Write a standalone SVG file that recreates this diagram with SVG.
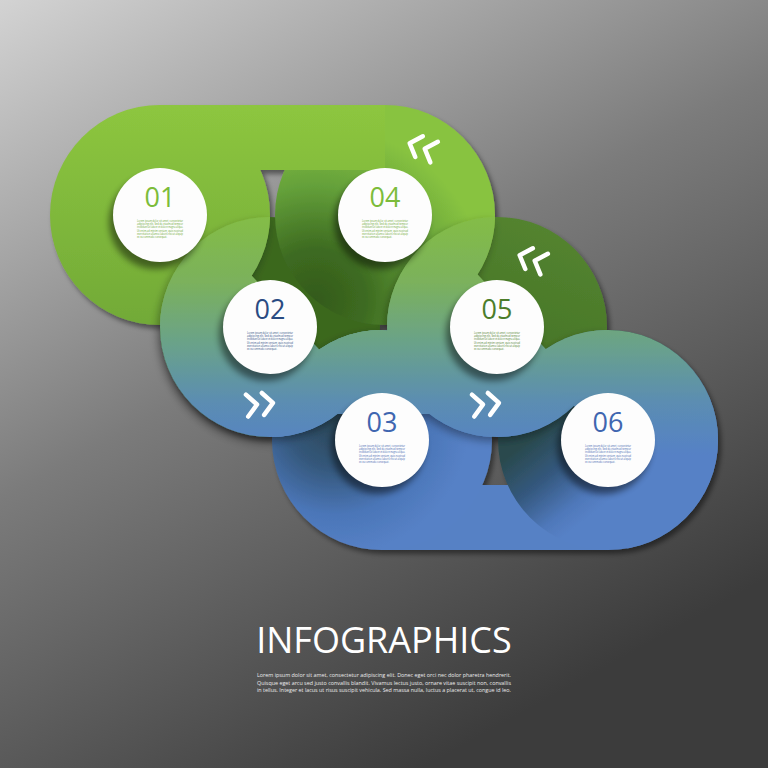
<svg xmlns="http://www.w3.org/2000/svg" width="768" height="768" viewBox="0 0 768 768">
<defs>
  <style>
    .wc { fill: #fdfdfd; }
    .sd { fill: #000; opacity: 0.45; filter: url(#blur); }
    .num { font-family: "Open Sans", "Liberation Sans", sans-serif; font-size: 27px; text-anchor: middle; }
    .lo { font-family: "Open Sans", "Liberation Sans", sans-serif; font-size: 3.3px; }
    .chev { fill: none; stroke: #fff; stroke-width: 4.5; stroke-linecap: round; stroke-linejoin: round; }
    .title { font-family: "Open Sans", "Liberation Sans", sans-serif; font-size: 36px; fill: #fff; text-anchor: middle; }
    .para { font-family: "Open Sans", "Liberation Sans", sans-serif; font-size: 6px; fill: #ececec; }
  </style>
  <linearGradient id="bg" x1="0" y1="0" x2="0.55" y2="1">
    <stop offset="0" stop-color="#d3d3d3"/>
    <stop offset="0.5" stop-color="#7b7b7b"/>
    <stop offset="1" stop-color="#3c3c3c"/>
  </linearGradient>
  <linearGradient id="light" gradientUnits="userSpaceOnUse" x1="0" y1="105" x2="0" y2="330">
    <stop offset="0" stop-color="#8dc63f"/>
    <stop offset="1" stop-color="#71a937"/>
  </linearGradient>
  <linearGradient id="eg" x1="0.7" y1="0" x2="0.3" y2="1">
    <stop offset="0" stop-color="#548430"/>
    <stop offset="1" stop-color="#3d6a21"/>
  </linearGradient>
  <radialGradient id="dint" gradientUnits="userSpaceOnUse" cx="315" cy="300" r="175">
    <stop offset="0" stop-color="#335a1b"/>
    <stop offset="0.3" stop-color="#3e6c21"/>
    <stop offset="0.65" stop-color="#64a03a"/>
    <stop offset="1" stop-color="#88c340"/>
  </radialGradient>
  <radialGradient id="cint" gradientUnits="userSpaceOnUse" cx="335" cy="420" r="135">
    <stop offset="0" stop-color="#2a4656"/>
    <stop offset="0.35" stop-color="#34577a"/>
    <stop offset="0.7" stop-color="#4b76b8"/>
    <stop offset="1" stop-color="#5681c6"/>
  </radialGradient>
  <linearGradient id="fint" gradientUnits="userSpaceOnUse" x1="530" y1="440" x2="600" y2="530">
    <stop offset="0" stop-color="#2a4a4e"/>
    <stop offset="0.35" stop-color="#34587e"/>
    <stop offset="0.68" stop-color="#4f78ba"/>
    <stop offset="0.85" stop-color="#5681c6"/>
  </linearGradient>
  <linearGradient id="rib" gradientUnits="userSpaceOnUse" x1="0" y1="215" x2="0" y2="455">
    <stop offset="0" stop-color="#84bd46"/>
    <stop offset="0.28" stop-color="#7bb15c"/>
    <stop offset="0.55" stop-color="#69a18c"/>
    <stop offset="0.78" stop-color="#5b8db2"/>
    <stop offset="1" stop-color="#5681c6"/>
  </linearGradient>
  <filter id="sh" x="-10%" y="-10%" width="125%" height="130%">
    <feDropShadow dx="3" dy="4" stdDeviation="2.5" flood-color="#000" flood-opacity="0.45"/>
  </filter>
  <filter id="rs" x="-10%" y="-10%" width="125%" height="130%">
    <feDropShadow dx="-2" dy="4" stdDeviation="4" flood-color="#000" flood-opacity="0.35"/>
  </filter>
  <filter id="blur" x="-30%" y="-30%" width="160%" height="160%">
    <feGaussianBlur stdDeviation="3"/>
  </filter>
  <clipPath id="cpB"><circle cx="270" cy="327" r="110"/></clipPath>
  <clipPath id="cpC"><circle cx="382" cy="440" r="110"/></clipPath>
  <clipPath id="cpE"><circle cx="497" cy="327" r="110"/></clipPath>
  <clipPath id="cpF"><circle cx="608" cy="440" r="110"/></clipPath>
  <g id="lorem">
    <text class="lo" x="0" y="0" textLength="46" lengthAdjust="spacingAndGlyphs">Lorem ipsum dolor sit amet, consectetur</text>
    <text class="lo" x="0" y="3.2" textLength="46" lengthAdjust="spacingAndGlyphs">adipiscing elit. Sed do eiusmod tempor</text>
    <text class="lo" x="0" y="6.4" textLength="46" lengthAdjust="spacingAndGlyphs">incididunt ut labore et dolore magna aliqua.</text>
    <text class="lo" x="0" y="9.6" textLength="46" lengthAdjust="spacingAndGlyphs">Ut enim ad minim veniam, quis nostrud</text>
    <text class="lo" x="0" y="12.8" textLength="46" lengthAdjust="spacingAndGlyphs">exercitation ullamco laboris nisi ut aliquip</text>
    <text class="lo" x="0" y="16" textLength="30" lengthAdjust="spacingAndGlyphs">ex ea commodo consequat.</text>
  </g>
  <path id="chev" class="chev" d="M-15,-11 L-5,0 L-15,11 M1,-11 L11,0 L1,11"/>
</defs>

<rect width="768" height="768" fill="url(#bg)"/>

<g id="chain" filter="url(#sh)">
  <circle cx="497" cy="327" r="110" fill="url(#eg)"/>
  <circle cx="270" cy="327" r="110" fill="#3b671f"/>
  <circle cx="385" cy="215" r="110" fill="url(#dint)"/>
  <rect x="382" y="485" width="226" height="65" fill="#5781c5"/>
  <circle cx="382" cy="440" r="110" fill="url(#cint)"/>
  <circle cx="608" cy="440" r="110" fill="url(#fint)"/>
  <g fill="url(#light)">
    <circle cx="160" cy="215" r="110"/>
    <rect x="160" y="105" width="225" height="65"/>
  </g>
  <g id="ribbon" filter="url(#rs)" fill="url(#rib)">
    <g clip-path="url(#cpB)">
      <circle cx="160" cy="215" r="110"/>
      <circle cx="382" cy="440" r="110"/>
      <polygon points="67,73 501,549 100,600 -100,200"/>
    </g>
    <g clip-path="url(#cpC)">
      <circle cx="270" cy="327" r="110"/>
      <circle cx="497" cy="327" r="110"/>
      <rect x="0" y="0" width="768" height="414"/>
    </g>
    <g clip-path="url(#cpE)">
      <circle cx="385" cy="215" r="110"/>
      <circle cx="608" cy="440" r="110"/>
      <polygon points="294,73 728,549 327,600 127,200"/>
    </g>
  </g>
  <g clip-path="url(#cpF)" fill="url(#rib)">
    <polygon points="608,440 396,228 800,-100 900,900 660,735"/>
  </g>
</g>

<g id="arrows">
  <use href="#chev" transform="translate(420,147) rotate(200)"/>
  <use href="#chev" transform="translate(530,259) rotate(200)"/>
  <use href="#chev" transform="translate(262,404) rotate(-6)"/>
  <use href="#chev" transform="translate(488,404) rotate(-6)"/>
</g>

<g id="step01">
  <circle class="sd" cx="156" cy="222" r="47"/>
  <circle class="wc" cx="160" cy="215" r="47"/>
  <text class="num" x="160" y="207" fill="#7cbc3a">01</text>
  <use href="#lorem" x="137" y="222" fill="#6aa832"/>
</g>
<g id="step02">
  <circle class="sd" cx="266" cy="334" r="47"/>
  <circle class="wc" cx="270" cy="327" r="47"/>
  <text class="num" x="270" y="319" fill="#2a4b82">02</text>
  <use href="#lorem" x="247" y="334" fill="#2a4b82"/>
</g>
<g id="step03">
  <circle class="sd" cx="378" cy="447" r="47"/>
  <circle class="wc" cx="382" cy="440" r="47"/>
  <text class="num" x="382" y="432" fill="#3f66b0">03</text>
  <use href="#lorem" x="359" y="447" fill="#3f66b0"/>
</g>
<g id="step04">
  <circle class="sd" cx="381" cy="222" r="47"/>
  <circle class="wc" cx="385" cy="215" r="47"/>
  <text class="num" x="385" y="207" fill="#7cbc3a">04</text>
  <use href="#lorem" x="362" y="222" fill="#6aa832"/>
</g>
<g id="step05">
  <circle class="sd" cx="493" cy="334" r="47"/>
  <circle class="wc" cx="497" cy="327" r="47"/>
  <text class="num" x="497" y="319" fill="#4c7d2a">05</text>
  <use href="#lorem" x="474" y="334" fill="#4c7d2a"/>
</g>
<g id="step06">
  <circle class="sd" cx="604" cy="447" r="47"/>
  <circle class="wc" cx="608" cy="440" r="47"/>
  <text class="num" x="608" y="432" fill="#3f66b0">06</text>
  <use href="#lorem" x="585" y="447" fill="#3f66b0"/>
</g>

<g id="caption">
  <text class="title" x="384" y="653">INFOGRAPHICS</text>
  <text class="para" x="257" y="677" textLength="254" lengthAdjust="spacingAndGlyphs">Lorem ipsum dolor sit amet, consectetur adipiscing elit. Donec eget orci nec dolor pharetra hendrerit.</text>
  <text class="para" x="257" y="684.5" textLength="254" lengthAdjust="spacingAndGlyphs">Quisque eget arcu sed justo convallis blandit. Vivamus lectus justo, ornare vitae suscipit non, convallis</text>
  <text class="para" x="257" y="692" textLength="254" lengthAdjust="spacingAndGlyphs">in tellus. Integer et lacus ut risus suscipit vehicula. Sed massa nulla, luctus a placerat ut, congue id leo.</text>
</g>
</svg>
